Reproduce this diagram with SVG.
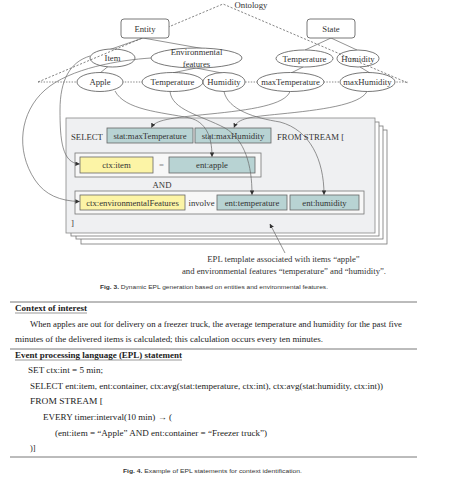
<svg xmlns="http://www.w3.org/2000/svg" width="474" height="491" viewBox="0 0 474 491">
<defs>
<style>
.t{font-family:"Liberation Serif","Times New Roman",serif;font-size:8.7px;fill:#333;}
.m{text-anchor:middle;}
.b{font-family:"Liberation Serif","Times New Roman",serif;font-size:8.3px;fill:#222;}
.bb{font-family:"Liberation Serif","Times New Roman",serif;font-size:8.3px;fill:#222;font-weight:bold;}
.cap{font-family:"Liberation Sans",Arial,sans-serif;font-size:5.8px;fill:#333;}
.el{fill:#fff;stroke:#555;stroke-width:0.8;}
.rb{fill:#fff;stroke:#555;stroke-width:0.8;}
.tree{stroke:#666;stroke-width:0.7;fill:none;}
.dash{stroke:#555;stroke-width:0.7;fill:none;stroke-dasharray:2.2,1.6;}
.dot{stroke:#555;stroke-width:0.7;fill:none;stroke-dasharray:1.4,1.4;}
.stack{fill:#fff;stroke:#777;stroke-width:0.8;}
.main{fill:#eff0f2;stroke:#888;stroke-width:0.8;}
.sub{fill:#f7f7f7;stroke:#777;stroke-width:0.8;}
.teal{fill:#b8d3d3;stroke:#666;stroke-width:0.8;}
.yel{fill:#fcf4a6;stroke:#666;stroke-width:0.8;}
.con{stroke:#666;stroke-width:0.7;fill:none;marker-end:url(#ah);}
.rule{stroke:#555;stroke-width:0.8;}
</style>
<marker id="ah" viewBox="0 0 6 6" refX="5.5" refY="3" markerWidth="4.5" markerHeight="4.5" orient="auto" markerUnits="userSpaceOnUse">
<path d="M0,0 L6,3 L0,6 z" fill="#333"/>
</marker>
</defs>
<rect width="474" height="491" fill="#fff"/>

<g id="ontology-lines">
<line class="dot" x1="38" y1="82" x2="408" y2="82"/>
<line class="tree" x1="143" y1="38" x2="110" y2="49.5"/>
<line class="tree" x1="143" y1="38" x2="202" y2="48.5"/>
<line class="tree" x1="108" y1="66.5" x2="100" y2="73"/>
<line class="tree" x1="196" y1="68" x2="172" y2="73"/>
<line class="tree" x1="196" y1="68" x2="222" y2="73"/>
<line class="tree" x1="331" y1="38" x2="305" y2="50"/>
<line class="tree" x1="331" y1="38" x2="357" y2="50"/>
<line class="tree" x1="303" y1="67" x2="291" y2="73"/>
<line class="tree" x1="360" y1="67" x2="370" y2="73"/>
</g>

<g id="node-item"><ellipse class="el" cx="112.5" cy="58" rx="22.5" ry="9"/><text class="t m" x="112.5" y="61">Item</text></g>
<g id="node-envfeatures"><ellipse class="el" cx="196.5" cy="58" rx="45.5" ry="10"/><text class="t m" x="196.5" y="55">Environmental</text><text class="t m" x="196.5" y="66.5">features</text></g>
<g id="node-state-temperature"><ellipse class="el" cx="304.5" cy="58.5" rx="28.5" ry="8.5"/><text class="t m" x="304.5" y="61.5">Temperature</text></g>
<g id="node-state-humidity"><ellipse class="el" cx="358" cy="58.5" rx="21" ry="8.5"/><text class="t m" x="358" y="61.5">Humidity</text></g>
<g id="node-apple"><ellipse class="el" cx="100" cy="82" rx="23" ry="9.5"/><text class="t m" x="100" y="85">Apple</text></g>
<g id="node-temperature"><ellipse class="el" cx="172.5" cy="82" rx="30.5" ry="9.5"/><text class="t m" x="172.5" y="85">Temperature</text></g>
<g id="node-humidity"><ellipse class="el" cx="224" cy="82" rx="21" ry="9.5"/><text class="t m" x="224" y="85">Humidity</text></g>
<g id="node-maxtemperature"><ellipse class="el" cx="290.5" cy="82" rx="33.5" ry="9.5"/><text class="t m" x="290.5" y="85">maxTemperature</text></g>
<g id="node-maxhumidity"><ellipse class="el" cx="367.5" cy="82" rx="27.5" ry="9.5"/><text class="t m" x="367.5" y="85">maxHumidity</text></g>

<g id="ontology-dashed">
<polyline class="dash" points="38,82 223,4 408,83"/>
</g>
<g id="node-ontology"><text class="t m" x="251" y="7.5">Ontology</text></g>
<g id="node-entity"><rect class="rb" x="121" y="19" width="48" height="19" rx="3"/><text class="t m" x="145" y="31.5">Entity</text></g>
<g id="node-state"><rect class="rb" x="307" y="19" width="48" height="19" rx="3"/><text class="t m" x="331" y="31.5">State</text></g>

<g id="node-template">
<rect class="stack" x="81" y="130" width="306" height="114"/>
<rect class="stack" x="76" y="126" width="307" height="113"/>
<rect class="stack" x="71" y="122" width="308" height="114"/>
<rect class="main" x="66" y="118" width="309" height="115"/>
<text class="t" x="71" y="140">SELECT</text>
<text class="t" x="277" y="140">FROM STREAM [</text>
<text class="t" x="71" y="226">]</text>
<text class="t m" x="162" y="188">AND</text>
</g>
<g id="node-stat-maxtemperature"><rect class="teal" x="107" y="128" width="86" height="15"/><text class="t m" x="150" y="138.8">stat:maxTemperature</text></g>
<g id="node-stat-maxhumidity"><rect class="teal" x="195" y="128" width="76" height="15"/><text class="t m" x="233" y="138.8">stat:maxHumidity</text></g>
<g id="node-cond1">
<rect class="sub" x="75" y="153" width="186" height="24"/>
<rect class="yel" x="80" y="157" width="73" height="16"/><text class="t m" x="116.5" y="168">ctx:item</text>
<text class="t m" x="161.5" y="168" style="fill:#888">=</text>
<rect class="teal" x="169" y="157" width="86" height="16"/><text class="t m" x="212" y="168">ent:apple</text>
</g>
<g id="node-cond2">
<rect class="sub" x="75" y="191" width="289" height="23"/>
<rect class="yel" x="80" y="195" width="105" height="15"/><text class="t m" x="132.5" y="205.5">ctx:environmentalFeatures</text>
<text class="t m" x="201.5" y="205.5">involve</text>
<rect class="teal" x="217" y="195" width="70" height="15"/><text class="t m" x="252" y="205.5">ent:temperature</text>
<rect class="teal" x="290" y="195" width="69" height="15"/><text class="t m" x="324.5" y="205.5">ent:humidity</text>
</g>

<g id="connectors">
<path class="con" d="M90,56 C70,62 60,80 60,110 C60,140 62,163 79.5,164"/>
<path class="con" d="M151,58 C120,60 70,68 45,90 C20,112 15,150 35,180 C45,195 60,201 79.5,201.5"/>
<path class="con" d="M115,91 C125,110 160,112 190,118 C205,122 212,135 212,156.5"/>
<path class="con" d="M170,91.5 C172,110 200,115 225,128 C245,140 252,165 252,194.5"/>
<path class="con" d="M224,91.5 C228,110 255,118 280,122 C310,130 324,160 324,194.5"/>
<path class="con" d="M290,91.5 C285,105 250,110 210,114 C170,118 155,120 151.5,127.5"/>
<path class="con" d="M367,91.5 C360,105 320,110 280,114 C250,117 238,118 234,127.5"/>
<line class="con" x1="285" y1="253" x2="270" y2="224"/>
</g>

<g id="node-annotation">
<text class="t m" x="283.5" y="262">EPL template associated with items “apple”</text>
<text class="t m" x="284" y="273.5">and environmental features “temperature” and “humidity”.</text>
</g>

<g id="caption-fig3">
<text class="cap" x="100" y="289" textLength="228" lengthAdjust="spacingAndGlyphs"><tspan font-weight="bold">Fig. 3.</tspan>  Dynamic EPL generation based on entities and environmental features.</text>
</g>

<g id="fig4">
<line class="rule" x1="10" y1="302" x2="417" y2="302"/>
<text class="bb" x="15" y="311" textLength="72" lengthAdjust="spacingAndGlyphs">Context of interest</text>
<line class="rule" x1="15" y1="313" x2="87" y2="313" style="stroke-width:0.6"/>
<text class="b" x="30" y="327" textLength="372" lengthAdjust="spacingAndGlyphs">When apples are out for delivery on a freezer truck, the average temperature and humidity for the past five</text>
<text class="b" x="15" y="342" textLength="308" lengthAdjust="spacingAndGlyphs">minutes of the delivered items is calculated; this calculation occurs every ten minutes.</text>
<line class="rule" x1="10" y1="349" x2="417" y2="349"/>
<text class="bb" x="15" y="358" textLength="167" lengthAdjust="spacingAndGlyphs">Event processing language (EPL) statement</text>
<line class="rule" x1="15" y1="360" x2="182" y2="360" style="stroke-width:0.6"/>
<text class="b" x="28" y="373" textLength="75" lengthAdjust="spacingAndGlyphs">SET ctx:int = 5 min;</text>
<text class="b" x="30" y="389" textLength="353" lengthAdjust="spacingAndGlyphs">SELECT ent:item, ent:container, ctx:avg(stat:temperature, ctx:int), ctx:avg(stat:humidity, ctx:int))</text>
<text class="b" x="30" y="404" textLength="73" lengthAdjust="spacingAndGlyphs">FROM STREAM [</text>
<text class="b" x="43" y="420" textLength="129" lengthAdjust="spacingAndGlyphs">EVERY timer:interval(10 min) → (</text>
<text class="b" x="55" y="436" textLength="212" lengthAdjust="spacingAndGlyphs">(ent:item = “Apple” AND ent:container = “Freezer truck”)</text>
<text class="b" x="30" y="451">)]</text>
<line class="rule" x1="10" y1="457" x2="417" y2="457"/>
<text class="cap" x="123" y="473" textLength="179" lengthAdjust="spacingAndGlyphs"><tspan font-weight="bold">Fig. 4.</tspan>  Example of EPL statements for context identification.</text>
</g>
</svg>
